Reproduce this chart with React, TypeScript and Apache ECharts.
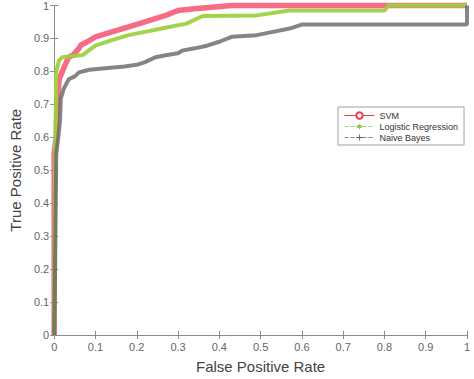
import React, { useEffect, useRef } from "react";
import * as echarts from "echarts";

const seriesNames = ["SVM", "Logistic Regression", "Naive Bayes"];

const fprSVM = [0, 0, 0.005, 0.007, 0.012, 0.023, 0.035, 0.046, 0.06, 0.065, 0.08, 0.1, 0.14, 0.18, 0.22, 0.27, 0.3, 0.34, 0.43, 1];
const tprSVM = [0, 0.55, 0.6, 0.7, 0.776, 0.81, 0.843, 0.85, 0.87, 0.88, 0.89, 0.905, 0.92, 0.935, 0.95, 0.97, 0.985, 0.99, 1, 1];

const fprLR = [0, 0.003, 0.005, 0.012, 0.02, 0.07, 0.085, 0.1, 0.14, 0.18, 0.22, 0.26, 0.32, 0.36, 0.49, 0.57, 0.8, 0.81, 1];
const tprLR = [0, 0.6, 0.8, 0.834, 0.843, 0.85, 0.865, 0.878, 0.895, 0.91, 0.92, 0.93, 0.945, 0.968, 0.97, 0.985, 0.985, 1, 1];

const fprNB = [0, 0.003, 0.005, 0.01, 0.014, 0.016, 0.023, 0.035, 0.05, 0.06, 0.085, 0.13, 0.17, 0.2, 0.22, 0.245, 0.27, 0.3, 0.31, 0.34, 0.37, 0.4, 0.43, 0.49, 0.53, 0.57, 0.6, 1, 1];
const tprNB = [0, 0.3, 0.55, 0.6, 0.65, 0.718, 0.747, 0.776, 0.785, 0.797, 0.805, 0.81, 0.815, 0.82, 0.828, 0.843, 0.849, 0.855, 0.863, 0.87, 0.878, 0.89, 0.905, 0.91, 0.92, 0.93, 0.942, 0.942, 1];

const zip = (xs: number[], ys: number[]) => xs.map((x, i) => [x, ys[i]]);

const FONT = "'Liberation Sans', Arial, Helvetica, sans-serif";
const STAR = "path://M5,0 L6.2,3.2 L9.8,2.2 L7.4,5 L9.8,7.8 L6.2,6.8 L5,10 L3.8,6.8 L0.2,7.8 L2.6,5 L0.2,2.2 L3.8,3.2 Z";
const PLUS = "path://M4.4,0 H5.6 V4.4 H10 V5.6 H5.6 V10 H4.4 V5.6 H0 V4.4 H4.4 Z";

export default function App() {
  const ref = useRef<HTMLDivElement>(null);
  useEffect(() => {
    if (!ref.current) return;
    const chart = echarts.init(ref.current, undefined, { renderer: "svg" });
    const axisCommon = {
      type: "value" as const,
      min: 0,
      max: 1,
      interval: 0.1,
      axisLine: { show: true, lineStyle: { color: "#8c8c8c", width: 1 } },
      axisTick: { show: true, inside: true, length: 4, lineStyle: { color: "#8c8c8c" } },
      splitLine: { show: false },
    };
    chart.setOption({
      animation: false,
      backgroundColor: "#ffffff",
      textStyle: { fontFamily: FONT },
      grid: { left: 35, right: 7, top: 3, bottom: 32, containLabel: false },
      legend: {
        orient: "vertical",
        left: 338,
        top: 107,
        width: 118,
        padding: [4, 6, 3, 6],
        itemGap: 2,
        itemWidth: 30,
        itemHeight: 8,
        borderColor: "#a0a0a0",
        borderWidth: 1,
        backgroundColor: "#ffffff",
        textStyle: { fontSize: 9, color: "#333", fontFamily: FONT },
        lineStyle: { width: 1 },
        data: [
          { name: seriesNames[0], itemStyle: { color: "#f03a52", borderColor: "#f03a52", borderWidth: 1 }, lineStyle: { width: 1, color: "#f03a52", type: "solid", opacity: 1 } },
          { name: seriesNames[1], itemStyle: { color: "#8cc63f", borderWidth: 0 }, lineStyle: { width: 1, color: "#a8d070", type: "dashed", opacity: 1 } },
          { name: seriesNames[2], itemStyle: { color: "#555555", borderWidth: 0 }, lineStyle: { width: 1, color: "#888888", type: "dashed", opacity: 1 } },
        ],
      },
      xAxis: [
        {
          ...axisCommon,
          position: "bottom",
          name: "False Positive Rate",
          nameLocation: "middle",
          nameGap: 24,
          nameTextStyle: { fontSize: 15, color: "#444", fontFamily: FONT },
          axisLabel: { fontSize: 11, color: "#666", margin: 6, fontFamily: FONT },
        },
        { ...axisCommon, position: "top", axisLabel: { show: false } },
      ],
      yAxis: [
        {
          ...axisCommon,
          position: "left",
          name: "True Positive Rate",
          nameLocation: "middle",
          nameGap: 22,
          nameTextStyle: { fontSize: 15, color: "#444", fontFamily: FONT },
          axisLabel: { fontSize: 11, color: "#666", margin: 5, fontFamily: FONT },
        },
        { ...axisCommon, position: "right", axisLabel: { show: false } },
      ],
      series: [
        {
          name: seriesNames[0],
          type: "line",
          data: zip(fprSVM, tprSVM),
          symbol: "emptyCircle",
          symbolSize: 7,
          showSymbol: false,
          clip: false,
          lineStyle: { color: "#f4607a", width: 5.5, opacity: 0.92 },
          itemStyle: { color: "#f03a52" },
          z: 2,
        },
        {
          name: seriesNames[1],
          type: "line",
          data: zip(fprLR, tprLR),
          symbol: STAR,
          symbolSize: 7,
          showSymbol: false,
          clip: false,
          lineStyle: { color: "#9fd040", width: 4, opacity: 0.95 },
          itemStyle: { color: "#8cc63f" },
          z: 3,
        },
        {
          name: seriesNames[2],
          type: "line",
          data: zip(fprNB, tprNB),
          symbol: PLUS,
          symbolSize: 8,
          showSymbol: false,
          clip: false,
          lineStyle: { color: "#666666", width: 4, opacity: 0.8 },
          itemStyle: { color: "#555555" },
          z: 4,
        },
      ],
    });
    return () => chart.dispose();
  }, []);
  return (
    <div
      ref={ref}
      style={{ position: "absolute", left: 0, top: 0, width: 474, height: 379 }}
    />
  );
}
